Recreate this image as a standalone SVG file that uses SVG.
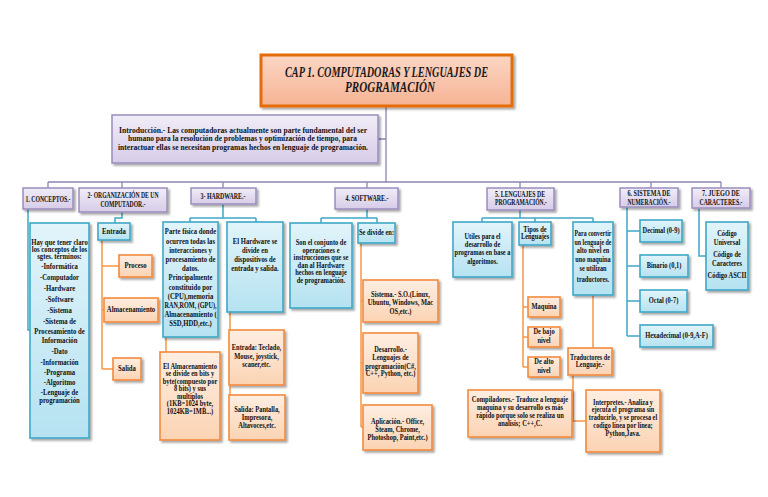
<svg xmlns="http://www.w3.org/2000/svg" width="768" height="497" viewBox="0 0 768 497">
<defs>
<linearGradient id="gLav" x1="0" y1="0" x2="0" y2="1"><stop offset="0" stop-color="#f1edf7"/><stop offset="1" stop-color="#d6cce8"/></linearGradient>
<linearGradient id="gCyan" x1="0" y1="0" x2="0" y2="1"><stop offset="0" stop-color="#e2f4fa"/><stop offset="1" stop-color="#b5e2f1"/></linearGradient>
<linearGradient id="gPeach" x1="0" y1="0" x2="0" y2="1"><stop offset="0" stop-color="#feeee2"/><stop offset="1" stop-color="#fbd3b3"/></linearGradient>
<linearGradient id="gTitle" x1="0" y1="0" x2="0" y2="1"><stop offset="0" stop-color="#fcd6c4"/><stop offset="1" stop-color="#f6b394"/></linearGradient>
<filter id="sh" x="-20%" y="-20%" width="140%" height="140%"><feDropShadow dx="2" dy="2" stdDeviation="1.2" flood-color="#000" flood-opacity="0.35"/></filter>
</defs>
<style>
.lav{fill:url(#gLav);stroke:#9b8dbd;stroke-width:1.5;filter:url(#sh)}
.cy{fill:url(#gCyan);stroke:#3fa8c7;stroke-width:1.6;filter:url(#sh)}
.pe{fill:url(#gPeach);stroke:#f38a3c;stroke-width:1.6;filter:url(#sh)}
.ti{fill:url(#gTitle);stroke:#e46c0a;stroke-width:3;filter:url(#sh)}
.cp{fill:none;stroke:#8f82b3;stroke-width:1.3}
.cc{fill:none;stroke:#3fa8c7;stroke-width:1.5}
.co{fill:none;stroke:#f79646;stroke-width:1.5}
text{font-family:"Liberation Serif",serif;font-weight:bold;fill:#111;text-anchor:middle;font-size:7.8px}
.b{transform-box:fill-box;transform-origin:center;transform:scaleX(0.86)}
.s65{font-size:7.5px}
.s63{font-size:7.3px}
.hd{font-size:8.5px}
.it{font-size:7.6px}
.tt{font-size:14px;font-style:italic;fill:#1a1a1a}
</style>

<g id="connectors">
<path class="cp" d="M386,107V182M378,139H386M48,182H721M48,182V188M122,182V188M223,182V188M367,182V188M520,182V188M651,182V188M721,182V188"/>
<path class="cc" d="M28,209V330H30M122,212V218H115V223M223,203V218M190,218H256M190,218V222M256,218V222M367,208V218M321,218H377M321,218V223M377,218V223M520,210V218M482,218H593M482,218V222M535,218V222M593,218V222M627,205V336M627,231H640M627,266H640M627,301H640M627,336H640M699,209V256H706"/>
<path class="co" d="M102,240V369M102,266H119M102,310H104M102,369H113M166,337V352M230,312V417M361,243V427M361,301H363M361,363H363M361,427H363M523,245V367M523,307H528M523,337H528M523,367H528M593,295V348M573,375V421H586"/>
</g>

<g id="title">
<rect class="ti" x="261" y="55" width="251" height="51"/>
<text class="tt" x="386.5" y="76.5" textLength="203" lengthAdjust="spacingAndGlyphs">CAP 1. COMPUTADORAS Y LENGUAJES DE</text>
<text class="tt" x="390" y="91.5" textLength="90" lengthAdjust="spacingAndGlyphs">PROGRAMACIÓN</text>
</g>

<g id="intro">
<rect class="lav" x="112" y="115" width="266" height="48"/>
<text class="it" x="243" y="132.8" textLength="248" lengthAdjust="spacingAndGlyphs">Introducción.- Las computadoras actualmente son parte fundamental del ser</text>
<text class="it" x="242.5" y="141.3" textLength="229" lengthAdjust="spacingAndGlyphs">humano para la resolución de problemas y optimización de tiempo, para</text>
<text class="it" x="243" y="149.8" textLength="250" lengthAdjust="spacingAndGlyphs">interactuar ellas se necesitan programas hechos en lenguaje de programación.</text>
</g>

<g id="n1">
<rect class="lav" x="23" y="188" width="50" height="21"/>
<text class="hd" x="48" y="202" textLength="45" lengthAdjust="spacingAndGlyphs">1. CONCEPTOS.-</text>
</g>
<g id="n2">
<rect class="lav" x="79" y="188" width="88" height="24"/>
<text class="hd" x="123" y="198" textLength="71" lengthAdjust="spacingAndGlyphs">2- ORGANIZACIÓN DE UN</text>
<text class="hd" x="123" y="206.5" textLength="45" lengthAdjust="spacingAndGlyphs">COMPUTADOR.-</text>
</g>
<g id="n3">
<rect class="lav" x="191" y="188" width="65" height="16"/>
<text class="hd" x="223" y="198.5" textLength="45" lengthAdjust="spacingAndGlyphs">3- HARDWARE.-</text>
</g>
<g id="n4">
<rect class="lav" x="335" y="188" width="63" height="21"/>
<text class="hd" x="367" y="201" textLength="43" lengthAdjust="spacingAndGlyphs">4. SOFTWARE.-</text>
</g>
<g id="n5">
<rect class="lav" x="487" y="188" width="67" height="22"/>
<text class="hd" x="520" y="196.5" textLength="50" lengthAdjust="spacingAndGlyphs">5. LENGUAJES DE</text>
<text class="hd" x="521" y="205" textLength="52" lengthAdjust="spacingAndGlyphs">PROGRAMACIÓN.-</text>
</g>
<g id="n6">
<rect class="lav" x="620" y="188" width="58" height="19"/>
<text class="hd" x="649" y="196.3" textLength="43" lengthAdjust="spacingAndGlyphs">6. SISTEMA DE</text>
<text class="hd" x="649" y="204.8" textLength="43" lengthAdjust="spacingAndGlyphs">NUMERACIÓN.-</text>
</g>
<g id="n7">
<rect class="lav" x="692" y="188" width="58" height="20"/>
<text class="hd" x="721" y="196.3" textLength="38" lengthAdjust="spacingAndGlyphs">7. JUEGO DE</text>
<text class="hd" x="721" y="204.8" textLength="43" lengthAdjust="spacingAndGlyphs">CARACTERES.-</text>
</g>

<g id="conceptos-box">
<rect class="cy" x="30" y="223" width="59" height="215"/>
<text class="b" x="59.5"><tspan x="59.5" y="245.5">Hay que tener claro</tspan><tspan x="59.5" y="252.5">los conceptos de los</tspan><tspan x="59.5" y="259.5">sgtes. términos:</tspan><tspan x="59.5" y="269.5">-Informática</tspan><tspan x="59.5" y="280.5">-Computador</tspan><tspan x="59.5" y="291.5">-Hardware</tspan><tspan x="59.5" y="302.5">-Software</tspan><tspan x="59.5" y="313.5">-Sistema</tspan><tspan x="59.5" y="324.5">-Sistema de</tspan><tspan x="59.5" y="334.5">Procesamiento de</tspan><tspan x="59.5" y="343.5">Información</tspan><tspan x="59.5" y="354.5">-Dato</tspan><tspan x="59.5" y="365.5">-Información</tspan><tspan x="59.5" y="375.5">-Programa</tspan><tspan x="59.5" y="385.5">-Algoritmo</tspan><tspan x="59.5" y="395.5">-Lenguaje de</tspan><tspan x="59.5" y="403.5">programación</tspan></text>
</g>

<g id="entrada">
<rect class="cy" x="98" y="223" width="32" height="17"/>
<text class="b" x="114" y="234.5">Entrada</text>
</g>
<g id="proceso">
<rect class="pe" x="119" y="255" width="33" height="22"/>
<text class="b" x="135.5" y="268.5">Proceso</text>
</g>
<g id="almacenamiento">
<rect class="pe" x="104" y="298" width="54" height="24"/>
<text class="b" x="131" y="312.5">Almacenamiento</text>
</g>
<g id="salida">
<rect class="pe" x="113" y="358" width="28" height="22"/>
<text class="b" x="127" y="371.5">Salida</text>
</g>

<g id="hw-parte">
<rect class="cy" x="163" y="222" width="55" height="115"/>
<text class="b"><tspan x="190.5" y="234.5">Parte física donde</tspan><tspan x="190.5" y="243.7">ocurren todas las</tspan><tspan x="190.5" y="252.9">interacciones y</tspan><tspan x="190.5" y="262.1">procesamiento de</tspan><tspan x="190.5" y="271.3">datos.</tspan><tspan x="190.5" y="280.5">Principalmente</tspan><tspan x="190.5" y="289.7">constituido por</tspan><tspan x="190.5" y="298.9">(CPU),memoria</tspan></text>
<text x="190.5" y="308.1" textLength="52" lengthAdjust="spacingAndGlyphs">RAN,ROM, (GPU),</text>
<text class="b"><tspan x="190.5" y="317.3">Almacenamiento (</tspan><tspan x="190.5" y="326.5">SSD,HDD,etc.)</tspan></text>
</g>
<g id="hw-divide">
<rect class="cy" x="227" y="222" width="56" height="90"/>
<text class="b"><tspan x="255" y="244.5">El Hardware se</tspan><tspan x="255" y="253">divide en</tspan><tspan x="255" y="262.5">dispositivos de</tspan><tspan x="255" y="271">entrada y salida.</tspan></text>
</g>
<g id="hw-almac">
<rect class="pe" x="160" y="352" width="60" height="88"/>
<text class="b s65"><tspan x="190" y="369">El Almacenamiento</tspan><tspan x="190" y="376.5">se divide en bits y</tspan><tspan x="190" y="384">byte(compuesto por</tspan><tspan x="190" y="391.5">8 bits) y sus</tspan><tspan x="190" y="399">multiplos</tspan><tspan x="190" y="406.5">(1KB=1024 byte,</tspan><tspan x="190" y="414">1024KB=1MB...)</tspan></text>
</g>
<g id="hw-entrada">
<rect class="pe" x="229" y="330" width="55" height="55"/>
<text class="b s65"><tspan x="256.5" y="350.5">Entrada: Teclado,</tspan><tspan x="256.5" y="359">Mouse, joystick,</tspan><tspan x="256.5" y="367.5">scaner,etc.</tspan></text>
</g>
<g id="hw-salida">
<rect class="pe" x="229" y="395" width="56" height="45"/>
<text class="b s65"><tspan x="257" y="412.5">Salida: Pantalla,</tspan><tspan x="257" y="420.5">Impresora,</tspan><tspan x="257" y="428.5">Altavoces,etc.</tspan></text>
</g>

<g id="sw-conjunto">
<rect class="cy" x="290" y="223" width="62" height="85"/>
<text class="b s65"><tspan x="321" y="245.5">Son el conjunto de</tspan><tspan x="321" y="253">operaciones e</tspan><tspan x="321" y="260.5">instrucciones que se</tspan><tspan x="321" y="268">dan al Hardware</tspan><tspan x="321" y="275.5">hechos en lenguaje</tspan><tspan x="321" y="283">de programación.</tspan></text>
</g>
<g id="sw-divide">
<rect class="cy" x="358" y="223" width="37" height="20"/>
<text class="b s65" x="376.5" y="235.5">Se divide en:</text>
</g>
<g id="sw-sistema">
<rect class="pe" x="363" y="280" width="75" height="42"/>
<text class="b s65"><tspan x="400.5" y="297.5">Sistema.- S.O.(Linux,</tspan><tspan x="400.5" y="305.5">Ubuntu, Windows, Mac</tspan><tspan x="400.5" y="314">OS,etc.)</tspan></text>
</g>
<g id="sw-desarrollo">
<rect class="pe" x="363" y="333" width="55" height="60"/>
<text class="b s65"><tspan x="390.5" y="352.5">Desarrollo.-</tspan><tspan x="390.5" y="360.5">Lenguajes de</tspan><tspan x="390.5" y="369">programación(C#,</tspan><tspan x="390.5" y="376.5">C++, Python, etc.)</tspan></text>
</g>
<g id="sw-aplicacion">
<rect class="pe" x="363" y="405" width="69" height="45"/>
<text class="b s65"><tspan x="397.5" y="424">Aplicación.- Office,</tspan><tspan x="397.5" y="432.5">Steam, Chrome,</tspan><tspan x="397.5" y="440.5">Photoshop, Paint,etc.)</tspan></text>
</g>

<g id="lp-utiles">
<rect class="cy" x="453" y="222" width="59" height="55"/>
<text class="b" style="font-size:7.4px"><tspan x="482.5" y="239">Utiles para el</tspan><tspan x="482.5" y="247.5">desarrollo de</tspan><tspan x="482.5" y="255.5">programas en base a</tspan><tspan x="482.5" y="264">algoritmos.</tspan></text>
</g>
<g id="lp-tipos">
<rect class="cy" x="519" y="222" width="32" height="23"/>
<text class="b s65"><tspan x="535" y="232">Tipos de</tspan><tspan x="535" y="239.5">Lenguajes</tspan></text>
</g>
<g id="lp-convertir">
<rect class="cy" x="573" y="222" width="40" height="73"/>
<text class="s63" x="593" y="235.5" textLength="37" lengthAdjust="spacingAndGlyphs">Para convertir</text>
<text class="s63" x="593" y="244.5" textLength="37" lengthAdjust="spacingAndGlyphs">un lenguaje de</text>
<text class="b s63"><tspan x="593" y="253.5">alto nivel en</tspan><tspan x="593" y="262.5">uno maquina</tspan><tspan x="593" y="271.5">se utilizan</tspan><tspan x="593" y="282">traductores.</tspan></text>
</g>
<g id="lp-maquina">
<rect class="pe" x="528" y="297" width="32" height="20"/>
<text class="b s65" x="544" y="309.5">Maquina</text>
</g>
<g id="lp-bajo">
<rect class="pe" x="528" y="327" width="32" height="20"/>
<text class="b s65"><tspan x="544" y="334.5">De bajo</tspan><tspan x="544" y="343.5">nivel</tspan></text>
</g>
<g id="lp-alto">
<rect class="pe" x="528" y="357" width="32" height="20"/>
<text class="b s65"><tspan x="544" y="364.5">De alto</tspan><tspan x="544" y="373.5">nivel</tspan></text>
</g>
<g id="lp-traductores">
<rect class="pe" x="568" y="348" width="44" height="27"/>
<text class="s63" x="590" y="359.5" textLength="40" lengthAdjust="spacingAndGlyphs">Traductores de</text>
<text class="b s63" x="590" y="367.5">Lenguaje.-</text>
</g>
<g id="lp-compiladores">
<rect class="pe" x="468" y="390" width="104" height="47"/>
<text class="b s65"><tspan x="520" y="402.5">Compiladores.- Traduce a lenguaje</tspan><tspan x="520" y="410.5">maquina y su desarrollo es más</tspan><tspan x="520" y="418.5">rápido porque solo se realiza un</tspan><tspan x="520" y="426.5">analisis; C++,C.</tspan></text>
</g>
<g id="lp-interpretes">
<rect class="pe" x="586" y="390" width="74" height="62"/>
<text class="b s63"><tspan x="623" y="405">Interpretes.- Analiza y</tspan><tspan x="623" y="412.5">ejecuta el programa sin</tspan><tspan x="623" y="420.5">traducirlo, y se procesa el</tspan><tspan x="623" y="428.5">codigo línea por línea;</tspan><tspan x="623" y="436.5">Python,Java.</tspan></text>
</g>

<g id="sn-decimal">
<rect class="cy" x="640" y="220" width="42" height="22"/>
<text class="b s65" x="661" y="233.5">Decimal (0-9)</text>
</g>
<g id="sn-binario">
<rect class="cy" x="640" y="255" width="48" height="22"/>
<text class="b s65" x="664" y="268.5">Binario (0,1)</text>
</g>
<g id="sn-octal">
<rect class="cy" x="640" y="290" width="47" height="22"/>
<text class="b s65" x="663.5" y="303.5">Octal (0-7)</text>
</g>
<g id="sn-hex">
<rect class="cy" x="640" y="325" width="73" height="22"/>
<text class="b s65" x="676.5" y="338.5">Hexadecimal (0-9,A-F)</text>
</g>

<g id="jc-codigo">
<rect class="cy" x="706" y="222" width="42" height="68"/>
<text class="b s65"><tspan x="727" y="236.5">Código</tspan><tspan x="727" y="245.5">Universal</tspan><tspan x="727" y="257.5">Código de</tspan><tspan x="727" y="266.5">Caracteres</tspan><tspan x="727" y="278.5">Código ASCII</tspan></text>
</g>
</svg>
